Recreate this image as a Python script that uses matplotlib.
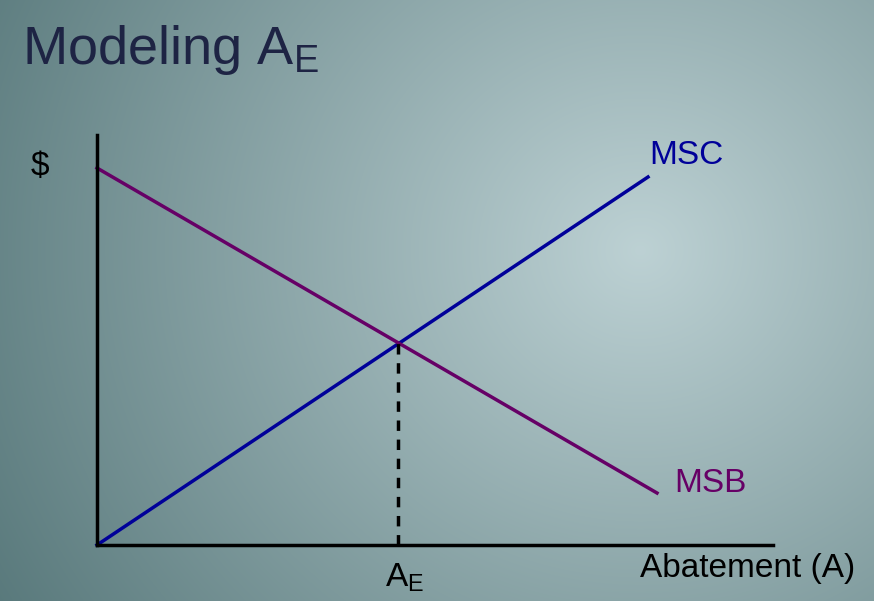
import numpy as np
import matplotlib
matplotlib.use("Agg")
import matplotlib.pyplot as plt

plt.rcParams['font.family'] = ['Liberation Sans', 'DejaVu Sans']

# data (axis units)
msc_x = [0, 551]
msc_y = [0, 368]
msb_x = [0, 560]
msb_y = [377, 52]
ae_x = 301
ae_y = 202

W, H = 874, 601
fig = plt.figure(figsize=(W/100, H/100), dpi=100)

# background gradient
bg = fig.add_axes([0, 0, 1, 1])
yy, xx = np.mgrid[0:H, 0:W]
d = np.sqrt(((xx - 640) / 800.0) ** 2 + ((yy - 250) / 750.0) ** 2)
d = np.clip(d, 0, 1)
light = np.array([0.74, 0.82, 0.83])
dark = np.array([0.32, 0.45, 0.46])
img = light[None, None, :] * (1 - d[..., None]) + dark[None, None, :] * d[..., None]
bg.imshow(img, extent=[0, W, H, 0], aspect='auto')
bg.set_xlim(0, W); bg.set_ylim(H, 0)
bg.axis('off')

ox, oy = 97, 545
ax = fig.add_axes([ox/W, (H-oy)/H, (773-ox)/W, (oy-135)/H])
ax.patch.set_alpha(0)
ax.set_xlim(0, 773-ox)
ax.set_ylim(0, oy-135)
for s in ['top', 'right']:
    ax.spines[s].set_visible(False)
for s in ['left', 'bottom']:
    ax.spines[s].set_linewidth(2.5)
    ax.spines[s].set_color('black')
ax.set_xticks([]); ax.set_yticks([])

ax.plot(msc_x, msc_y, color='#000099', lw=2.5, clip_on=False)
ax.plot(msb_x, msb_y, color='#660066', lw=2.5, clip_on=False)
ax.plot([ae_x, ae_x], [0, ae_y], color='black', lw=2.5, ls=(0, (3, 2.5)))

fs = 24
ax.text(msc_x[1] + 38, msc_y[1] + 22, 'MSC', color='#000099', fontsize=fs, ha='center', va='center')
ax.text(msb_x[1] + 53, msb_y[1] + 9, 'MSB', color='#660066', fontsize=fs, ha='center', va='center')

fig.text(40/W, 1 - 167/H, '$', fontsize=fs, ha='center', va='center', color='black')
fig.text(748/W, 1 - 568/H, 'Abatement (A)', fontsize=fs, ha='center', va='center', color='black')
fig.text(405/W, 1 - 578/H, r'A$_\mathregular{E}$', fontsize=fs, ha='center', va='center', color='black')
fig.text(22/W, 1 - 50/H, r'Modeling A$_\mathregular{E}$', fontsize=39, ha='left', va='center', color='#1e2444')

fig.savefig('out.png', dpi=100)
